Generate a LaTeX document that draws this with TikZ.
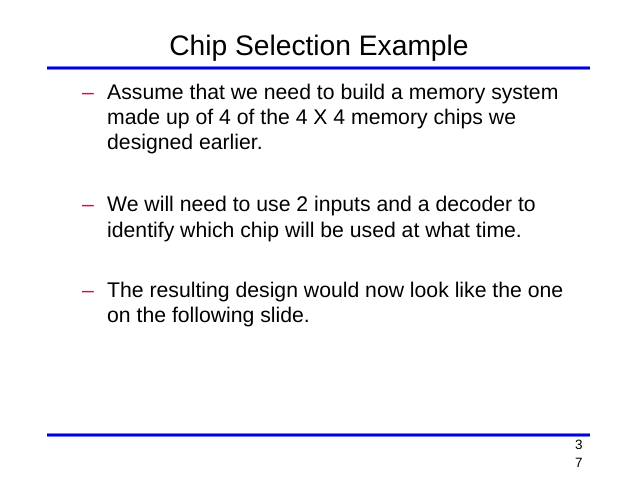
\documentclass[tikz,border=0pt]{standalone}
\usepackage{fontspec}
\setmainfont{Liberation Sans}
\begin{document}
\begin{tikzpicture}[x=1pt,y=-1pt,
  body/.style={anchor=base west,inner sep=0pt,font=\fontsize{21.2}{24}\selectfont},
  dashmark/.style={anchor=base west,inner sep=0pt,text={rgb,255:red,230;green,0;blue,90},font=\fontsize{21.2}{24}\selectfont},
  rule/.style={line width=4pt,draw={rgb,255:red,120;green,120;blue,255}}]
\useasboundingbox (0,0) rectangle (638,478);
\node[anchor=base,inner sep=0pt,font=\fontsize{28.2}{32}\selectfont] (title) at (319,56) {Chip Selection Example};
\coordinate (t1) at (47,68); \coordinate (t2) at (590,68);
\draw[rule] (t1) -- (t2);
\draw[line width=1.5pt,blue!85!black] (t1) -- (t2);
\coordinate (b1) at (47,435); \coordinate (b2) at (590,435);
\draw[rule] (b1) -- (b2);
\draw[line width=1.5pt,blue!85!black] (b1) -- (b2);
\node[dashmark] (d1) at (82,100) {–};
\node[body] (l1) at (107,100) {Assume that we need to build a memory system};
\node[body] (l2) at (107,125) {made up of 4 of the 4 X 4 memory chips we};
\node[body] (l3) at (107,150) {designed earlier.};
\node[dashmark] (d2) at (82,212) {–};
\node[body] (l4) at (107,212) {We will need to use 2 inputs and a decoder to};
\node[body] (l5) at (107,238) {identify which chip will be used at what time.};
\node[dashmark] (d3) at (82,298) {–};
\node[body] (l6) at (107,298) {The resulting design would now look like the one};
\node[body] (l7) at (107,323) {on the following slide.};
\node[anchor=base,inner sep=0pt,font=\fontsize{13.5}{14}\selectfont] (p1) at (579,450) {3};
\node[anchor=base,inner sep=0pt,font=\fontsize{13.5}{14}\selectfont] (p2) at (579,468) {7};
\end{tikzpicture}
\end{document}
